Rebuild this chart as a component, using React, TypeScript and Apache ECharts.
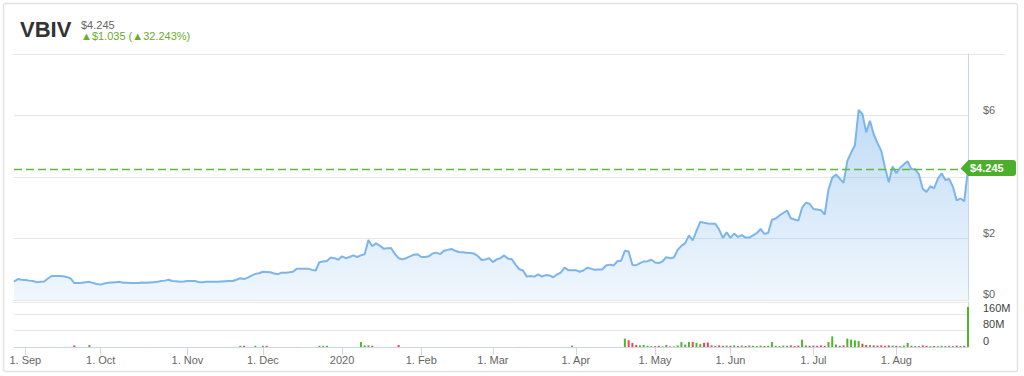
import React, { useEffect, useRef } from "react";
import * as echarts from "echarts";

const TICKER = "VBIV";
const LAST_PRICE = 4.245;
const CHANGE = 1.035;
const CHANGE_PCT = 32.243;

const START_DATE = "2019-08-28";
const END_DATE = "2020-08-28";
const HOLIDAYS = [
  "2019-09-02", "2019-11-28", "2019-12-25", "2020-01-01", "2020-01-20",
  "2020-02-17", "2020-04-10", "2020-05-25", "2020-07-03",
];
const MONTH_NAMES = ["Jan", "Feb", "Mar", "Apr", "May", "Jun", "Jul", "Aug", "Sep", "Oct", "Nov", "Dec"];

const PRICE_TICKS = [0, 2, 4, 6, 8];
const PRICE_LABELS_SHOWN = [0, 2, 6];
const VOLUME_TICKS = [0, 80, 160];

// daily closing prices ($), one per trading day
const prices = [
  0.60, 0.68, 0.66, 0.65, 0.63, 0.62, 0.58, 0.59, 0.60, 0.70,
  0.78, 0.78, 0.78, 0.77, 0.75, 0.70, 0.55, 0.55, 0.56, 0.58,
  0.59, 0.55, 0.52, 0.50, 0.54, 0.56, 0.57, 0.58, 0.59, 0.56,
  0.56, 0.55, 0.55, 0.55, 0.57, 0.56, 0.57, 0.58, 0.59, 0.62,
  0.63, 0.66, 0.62, 0.61, 0.59, 0.60, 0.62, 0.62, 0.62, 0.58,
  0.58, 0.59, 0.59, 0.59, 0.59, 0.60, 0.61, 0.62, 0.62, 0.66,
  0.71, 0.68, 0.73, 0.79, 0.85, 0.87, 0.92, 0.91, 0.90, 0.86,
  0.84, 0.89, 0.89, 0.90, 0.92, 1.02, 1.02, 1.02, 1.02, 0.98,
  0.96, 1.23, 1.25, 1.27, 1.38, 1.36, 1.31, 1.42, 1.36, 1.40,
  1.45, 1.40, 1.45, 1.49, 1.95, 1.75, 1.84, 1.77, 1.67, 1.68,
  1.69, 1.50, 1.36, 1.32, 1.36, 1.42, 1.47, 1.49, 1.40, 1.40,
  1.42, 1.51, 1.54, 1.49, 1.60, 1.63, 1.66, 1.60, 1.56, 1.55,
  1.54, 1.53, 1.51, 1.43, 1.30, 1.32, 1.36, 1.23, 1.32, 1.36,
  1.45, 1.34, 1.33, 1.15, 1.00, 0.96, 0.76, 0.78, 0.76, 0.83,
  0.76, 0.81, 0.80, 0.74, 0.83, 0.89, 1.05, 0.97, 0.97, 0.97,
  0.92, 0.96, 1.05, 1.02, 0.98, 0.99, 0.99, 1.12, 1.15, 1.12,
  1.26, 1.28, 1.60, 1.58, 1.14, 1.13, 1.20, 1.25, 1.26, 1.31,
  1.22, 1.20, 1.26, 1.39, 1.36, 1.38, 1.63, 1.76, 1.85, 2.10,
  1.94, 2.25, 2.54, 2.51, 2.49, 2.48, 2.48, 2.29, 2.02, 2.20,
  2.02, 2.16, 2.05, 2.11, 2.03, 2.03, 2.10, 2.18, 2.31, 2.15,
  2.18, 2.61, 2.65, 2.75, 2.83, 2.91, 2.66, 2.62, 2.58, 3.00,
  3.16, 3.13, 2.96, 2.94, 2.92, 2.78, 3.59, 3.98, 4.08, 3.95,
  3.81, 4.52, 4.79, 5.03, 6.18, 6.05, 5.45, 5.83, 5.39, 5.10,
  4.85, 4.30, 3.83, 4.34, 4.12, 4.30, 4.41, 4.51, 4.25, 4.25,
  4.08, 3.62, 3.51, 3.70, 3.63, 3.94, 4.12, 3.90, 3.94, 3.68,
  3.24, 3.30, 3.21, 4.245,
];

// daily volume (millions of shares)
const volumes = [
  0.3, 0.2, 0.2, 0.3, 0.2, 0.2, 0.3, 0.2, 0.2, 0.4,
  0.4, 0.3, 0.2, 0.2, 0.3, 0.4, 8, 0.3, 0.2, 0.2,
  10, 0.2, 0.3, 0.2, 0.2, 0.2, 0.3, 0.2, 0.2, 0.2,
  0.2, 0.2, 0.2, 0.2, 0.2, 0.3, 0.2, 0.2, 0.2, 0.2,
  0.2, 0.3, 0.2, 0.2, 0.2, 0.2, 0.2, 0.2, 0.2, 0.2,
  0.2, 0.2, 0.2, 0.2, 0.2, 0.2, 0.2, 0.3, 0.2, 0.3,
  6, 6, 0.3, 0.3, 6, 0.3, 6, 6, 0.3, 0.2,
  0.2, 0.3, 0.2, 0.2, 0.2, 0.4, 0.2, 0.2, 0.2, 0.2,
  0.2, 6, 6, 6, 0.3, 0.3, 0.2, 0.3, 0.2, 0.3,
  0.3, 0.3, 24, 8, 8, 6, 0.3, 0.3, 0.2, 0.2,
  0.2, 0.3, 10, 0.3, 0.2, 0.2, 0.2, 0.2, 0.2, 0.2,
  0.2, 0.2, 0.3, 0.2, 0.2, 0.2, 0.3, 0.2, 0.2, 0.2,
  0.2, 0.2, 0.2, 0.2, 0.3, 0.2, 0.2, 0.2, 0.2, 0.2,
  0.2, 0.2, 0.2, 0.3, 0.3, 0.2, 0.3, 0.2, 0.2, 0.2,
  0.2, 0.2, 0.2, 0.2, 0.2, 0.2, 0.3, 0.2, 7, 0.2,
  0.2, 0.2, 0.2, 0.2, 0.2, 0.2, 0.2, 0.3, 0.2, 0.2,
  0.3, 0.4, 41, 33, 20, 10, 8, 10, 6, 4,
  4, 6, 3, 10, 3, 3, 8, 24, 12, 24,
  24, 20, 14, 20, 22, 8, 6, 8, 6, 7,
  6, 8, 5, 7, 5, 8, 6, 5, 7, 5,
  6, 24, 6, 5, 7, 6, 8, 5, 7, 36,
  8, 6, 7, 6, 8, 6, 24, 52, 12, 6,
  8, 41, 36, 32, 29, 16, 10, 10, 8, 7,
  8, 6, 8, 7, 6, 5, 7, 20, 6, 5,
  4, 8, 6, 4, 5, 4, 6, 4, 6, 4,
  7, 5, 6, 196,
];

const FONT = '"Liberation Sans", Arial, Helvetica, sans-serif';

function buildTradingDays(): string[] {
  const out: string[] = [];
  const d = new Date(START_DATE + "T00:00:00Z");
  const end = new Date(END_DATE + "T00:00:00Z");
  while (d.getTime() <= end.getTime()) {
    const iso = d.toISOString().slice(0, 10);
    const wd = d.getUTCDay();
    if (wd !== 0 && wd !== 6 && HOLIDAYS.indexOf(iso) < 0) out.push(iso);
    d.setUTCDate(d.getUTCDate() + 1);
  }
  return out;
}

export default function App() {
  const ref = useRef<HTMLDivElement>(null);

  useEffect(() => {
    if (!ref.current) return;
    const chart = echarts.init(ref.current, undefined, { renderer: "svg" });
    const dates = buildTradingDays();
    const monthStart = dates.map((d, i) => i > 0 && d.slice(5, 7) !== dates[i - 1].slice(5, 7));
    const isMonthStart = (idx: number) => !!monthStart[idx];
    const fmtDate = (v: string) => {
      const m = parseInt(v.slice(5, 7), 10) - 1;
      return m === 0 ? v.slice(0, 4) : "1. " + MONTH_NAMES[m];
    };

    const volData = volumes.map((v, i) => ({
      value: v,
      itemStyle: { color: i === 0 || prices[i] >= prices[i - 1] ? "#4fb52a" : "#e8474c" },
    }));

    const option: any = {
      animation: false,
      textStyle: { fontFamily: FONT },
      grid: [
        { left: 14, right: 56, top: 54, height: 246 },
        { left: 14, right: 56, top: 302, height: 45 },
      ],
      xAxis: [
        {
          type: "category", gridIndex: 0, data: dates, boundaryGap: false,
          axisLine: { show: false }, axisTick: { show: false }, axisLabel: { show: false }, splitLine: { show: false },
        },
        {
          type: "category", gridIndex: 1, data: dates, boundaryGap: false,
          axisLine: { lineStyle: { color: "#ccd6eb" } },
          axisTick: { interval: isMonthStart, length: 8, lineStyle: { color: "#ccd6eb" } },
          axisLabel: { interval: isMonthStart, formatter: fmtDate, color: "#666", fontSize: 11, margin: 7, fontFamily: FONT },
          splitLine: { show: false },
        },
      ],
      yAxis: [
        {
          type: "value", gridIndex: 0, position: "right",
          min: PRICE_TICKS[0], max: PRICE_TICKS[PRICE_TICKS.length - 1], interval: 2,
          axisLine: { show: true, lineStyle: { color: "#ccd6eb" } },
          axisTick: { show: false },
          splitLine: { lineStyle: { color: "#e6e6e6" } },
          axisLabel: {
            formatter: (v: number) => (PRICE_LABELS_SHOWN.indexOf(v) >= 0 ? "$" + v : ""),
            color: "#666", fontSize: 11, margin: 15, verticalAlign: "bottom", lineHeight: 12, fontFamily: FONT,
          },
        },
        {
          type: "value", gridIndex: 1, position: "right", min: 0, max: 220, interval: 80,
          axisLine: { show: true, lineStyle: { color: "#ccd6eb" } },
          axisTick: { show: false },
          splitLine: { lineStyle: { color: "#e6e6e6" } },
          axisLabel: {
            formatter: (v: number) => (VOLUME_TICKS.indexOf(v) >= 0 ? (v === 0 ? "0" : v + "M") : ""),
            color: "#444", fontSize: 11, margin: 15, verticalAlign: "bottom", lineHeight: 13, fontFamily: FONT,
          },
        },
      ],
      series: [
        {
          type: "line", xAxisIndex: 0, yAxisIndex: 0, data: prices, symbol: "none",
          lineStyle: { color: "#7cb5ec", width: 2 },
          areaStyle: {
            color: new echarts.graphic.LinearGradient(0, 0, 0, 1, [
              { offset: 0, color: "rgba(124,181,236,0.68)" },
              { offset: 1, color: "rgba(124,181,236,0.16)" },
            ]),
          },
        },
        {
          type: "bar", xAxisIndex: 1, yAxisIndex: 1, data: volData, barWidth: 2,
        },
      ],
    };
    chart.setOption(option);

    const ly = chart.convertToPixel({ yAxisIndex: 0 }, LAST_PRICE) as number;
    const lx = chart.convertToPixel({ xAxisIndex: 0 }, dates[dates.length - 1]) as number;
    const fx = chart.convertToPixel({ xAxisIndex: 0 }, dates[0]) as number;
    const green = "#6aad2a";
    const badge = "#4cae2b";
    chart.setOption({
      graphic: [
        { type: "rect", shape: { x: 3.5, y: 3.5, width: 1014, height: 368, r: 2 }, style: { fill: "none", stroke: "#e3e3e3", lineWidth: 1.5 }, silent: true },
        { type: "line", shape: { x1: 13, y1: 54.5, x2: 1005, y2: 54.5 }, style: { stroke: "#e6e6e6", lineWidth: 1 }, silent: true },
        {
          type: "line", shape: { x1: fx, y1: ly, x2: lx, y2: ly },
          style: { stroke: "#5cbb3a", lineWidth: 1.5, lineDash: [8, 4] }, silent: true, z: 10,
        },
        { type: "text", x: 20, y: 29, style: { text: TICKER, font: "bold 22px " + FONT, fill: "#333", verticalAlign: "middle" } },
        { type: "text", x: 81, y: 24.5, style: { text: "$" + LAST_PRICE.toFixed(3), font: "11px " + FONT, fill: "#666", verticalAlign: "middle" } },
        {
          type: "text", x: 81, y: 35.5,
          style: { text: "▲$" + CHANGE.toFixed(3) + " (▲" + CHANGE_PCT.toFixed(3) + "%)", font: "11px " + FONT, fill: green, verticalAlign: "middle" },
        },
        { type: "polygon", shape: { points: [[lx - 7.5, ly - 1], [lx + 0.5, ly - 9.5], [lx + 0.5, ly + 6.5]] }, style: { fill: badge }, silent: true, z: 11 },
        { type: "rect", shape: { x: lx, y: ly - 9.5, width: 48, height: 16, r: [0, 3, 3, 0] }, style: { fill: badge }, silent: true, z: 11 },
        { type: "text", x: lx + 2, y: ly - 1.5, z: 12, style: { text: "$" + LAST_PRICE.toFixed(3), font: "bold 11px " + FONT, fill: "#fff", verticalAlign: "middle" } },
      ],
    });

    return () => chart.dispose();
  }, []);

  return (
    <div
      ref={ref}
      style={{ position: "fixed", left: 0, top: 0, width: 1024, height: 376, background: "#fff" }}
    />
  );
}
